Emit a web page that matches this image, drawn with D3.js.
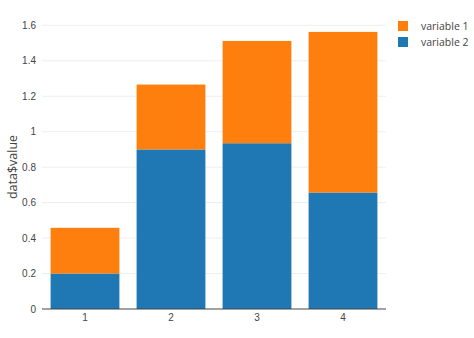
<!DOCTYPE html>
<html>
<head>
<meta charset="utf-8">
<script src="https://cdn.jsdelivr.net/npm/d3@7"></script>
<style>
  body { margin: 0; background: #fff; }
  svg { font-family: "Open Sans", sans-serif; }
</style>
</head>
<body>
<div id="chart"></div>
<script>
const categories = ['1', '2', '3', '4'];
const variable2 = [0.2, 0.9, 0.935, 0.657];
const variable1 = [0.258, 0.366, 0.577, 0.906];
const yTicks = [0, 0.2, 0.4, 0.6, 0.8, 1, 1.2, 1.4, 1.6];
const seriesNames = ['variable 1', 'variable 2'];
const colors = { 'variable 1': '#ff7f0e', 'variable 2': '#1f77b4' };

const width = 474, height = 338;
const margin = { top: 17, right: 88, bottom: 29, left: 42 };

const svg = d3.select('#chart').append('svg')
  .attr('width', width)
  .attr('height', height);

const x = d3.scaleBand()
  .domain(categories)
  .range([margin.left, width - margin.right])
  .paddingInner(0.2)
  .paddingOuter(0.1);

const y = d3.scaleLinear()
  .domain([0, 1.647])
  .range([height - margin.bottom, margin.top]);

// Grid lines
svg.append('g')
  .selectAll('line')
  .data(yTicks.filter(d => d > 0))
  .join('line')
  .attr('x1', margin.left)
  .attr('x2', width - margin.right)
  .attr('y1', d => y(d))
  .attr('y2', d => y(d))
  .attr('stroke', '#eee')
  .attr('stroke-width', 1);

// Stacked bars
const rows = categories.map((c, i) => ({ cat: c, 'variable 2': variable2[i], 'variable 1': variable1[i] }));
const stack = d3.stack().keys(['variable 2', 'variable 1'])(rows);

svg.append('g')
  .selectAll('g')
  .data(stack)
  .join('g')
  .attr('fill', d => colors[d.key])
  .selectAll('rect')
  .data(d => d)
  .join('rect')
  .attr('x', d => x(d.data.cat))
  .attr('width', x.bandwidth())
  .attr('y', d => y(d[1]))
  .attr('height', d => y(d[0]) - y(d[1]));

// Y axis labels
const yAxis = d3.axisLeft(y).tickValues(yTicks).tickSize(0).tickPadding(6)
  .tickFormat(d => d3.format('~g')(d));
svg.append('g')
  .attr('transform', `translate(${margin.left},0)`)
  .call(yAxis)
  .call(g => g.select('.domain').remove())
  .call(g => g.selectAll('text').attr('fill', '#444').attr('font-size', 10));

// X axis
const xAxis = d3.axisBottom(x).tickSize(0).tickPadding(5);
svg.append('g')
  .attr('transform', `translate(0,${y(0)})`)
  .call(xAxis)
  .call(g => g.select('.domain').remove())
  .call(g => g.selectAll('text').attr('fill', '#444').attr('font-size', 10));

// Zero line
svg.append('line')
  .attr('x1', margin.left)
  .attr('x2', width - margin.right)
  .attr('y1', y(0))
  .attr('y2', y(0))
  .attr('stroke', '#444')
  .attr('stroke-width', 1);

// Y axis title
svg.append('text')
  .attr('transform', `translate(12,167) rotate(-90)`)
  .attr('text-anchor', 'middle')
  .attr('dominant-baseline', 'central')
  .attr('fill', '#444')
  .attr('font-size', 12.5)
  .text('data$value');

// Legend
const legend = svg.append('g')
  .selectAll('g')
  .data(seriesNames)
  .join('g')
  .attr('transform', (d, i) => `translate(403,${26 + i * 16})`);

legend.append('rect')
  .attr('x', -5)
  .attr('y', -5)
  .attr('width', 10)
  .attr('height', 10)
  .attr('fill', d => colors[d]);

legend.append('text')
  .attr('x', 18)
  .attr('dominant-baseline', 'central')
  .attr('fill', '#444')
  .attr('font-size', 10.5)
  .text(d => d);
</script>
</body>
</html>
